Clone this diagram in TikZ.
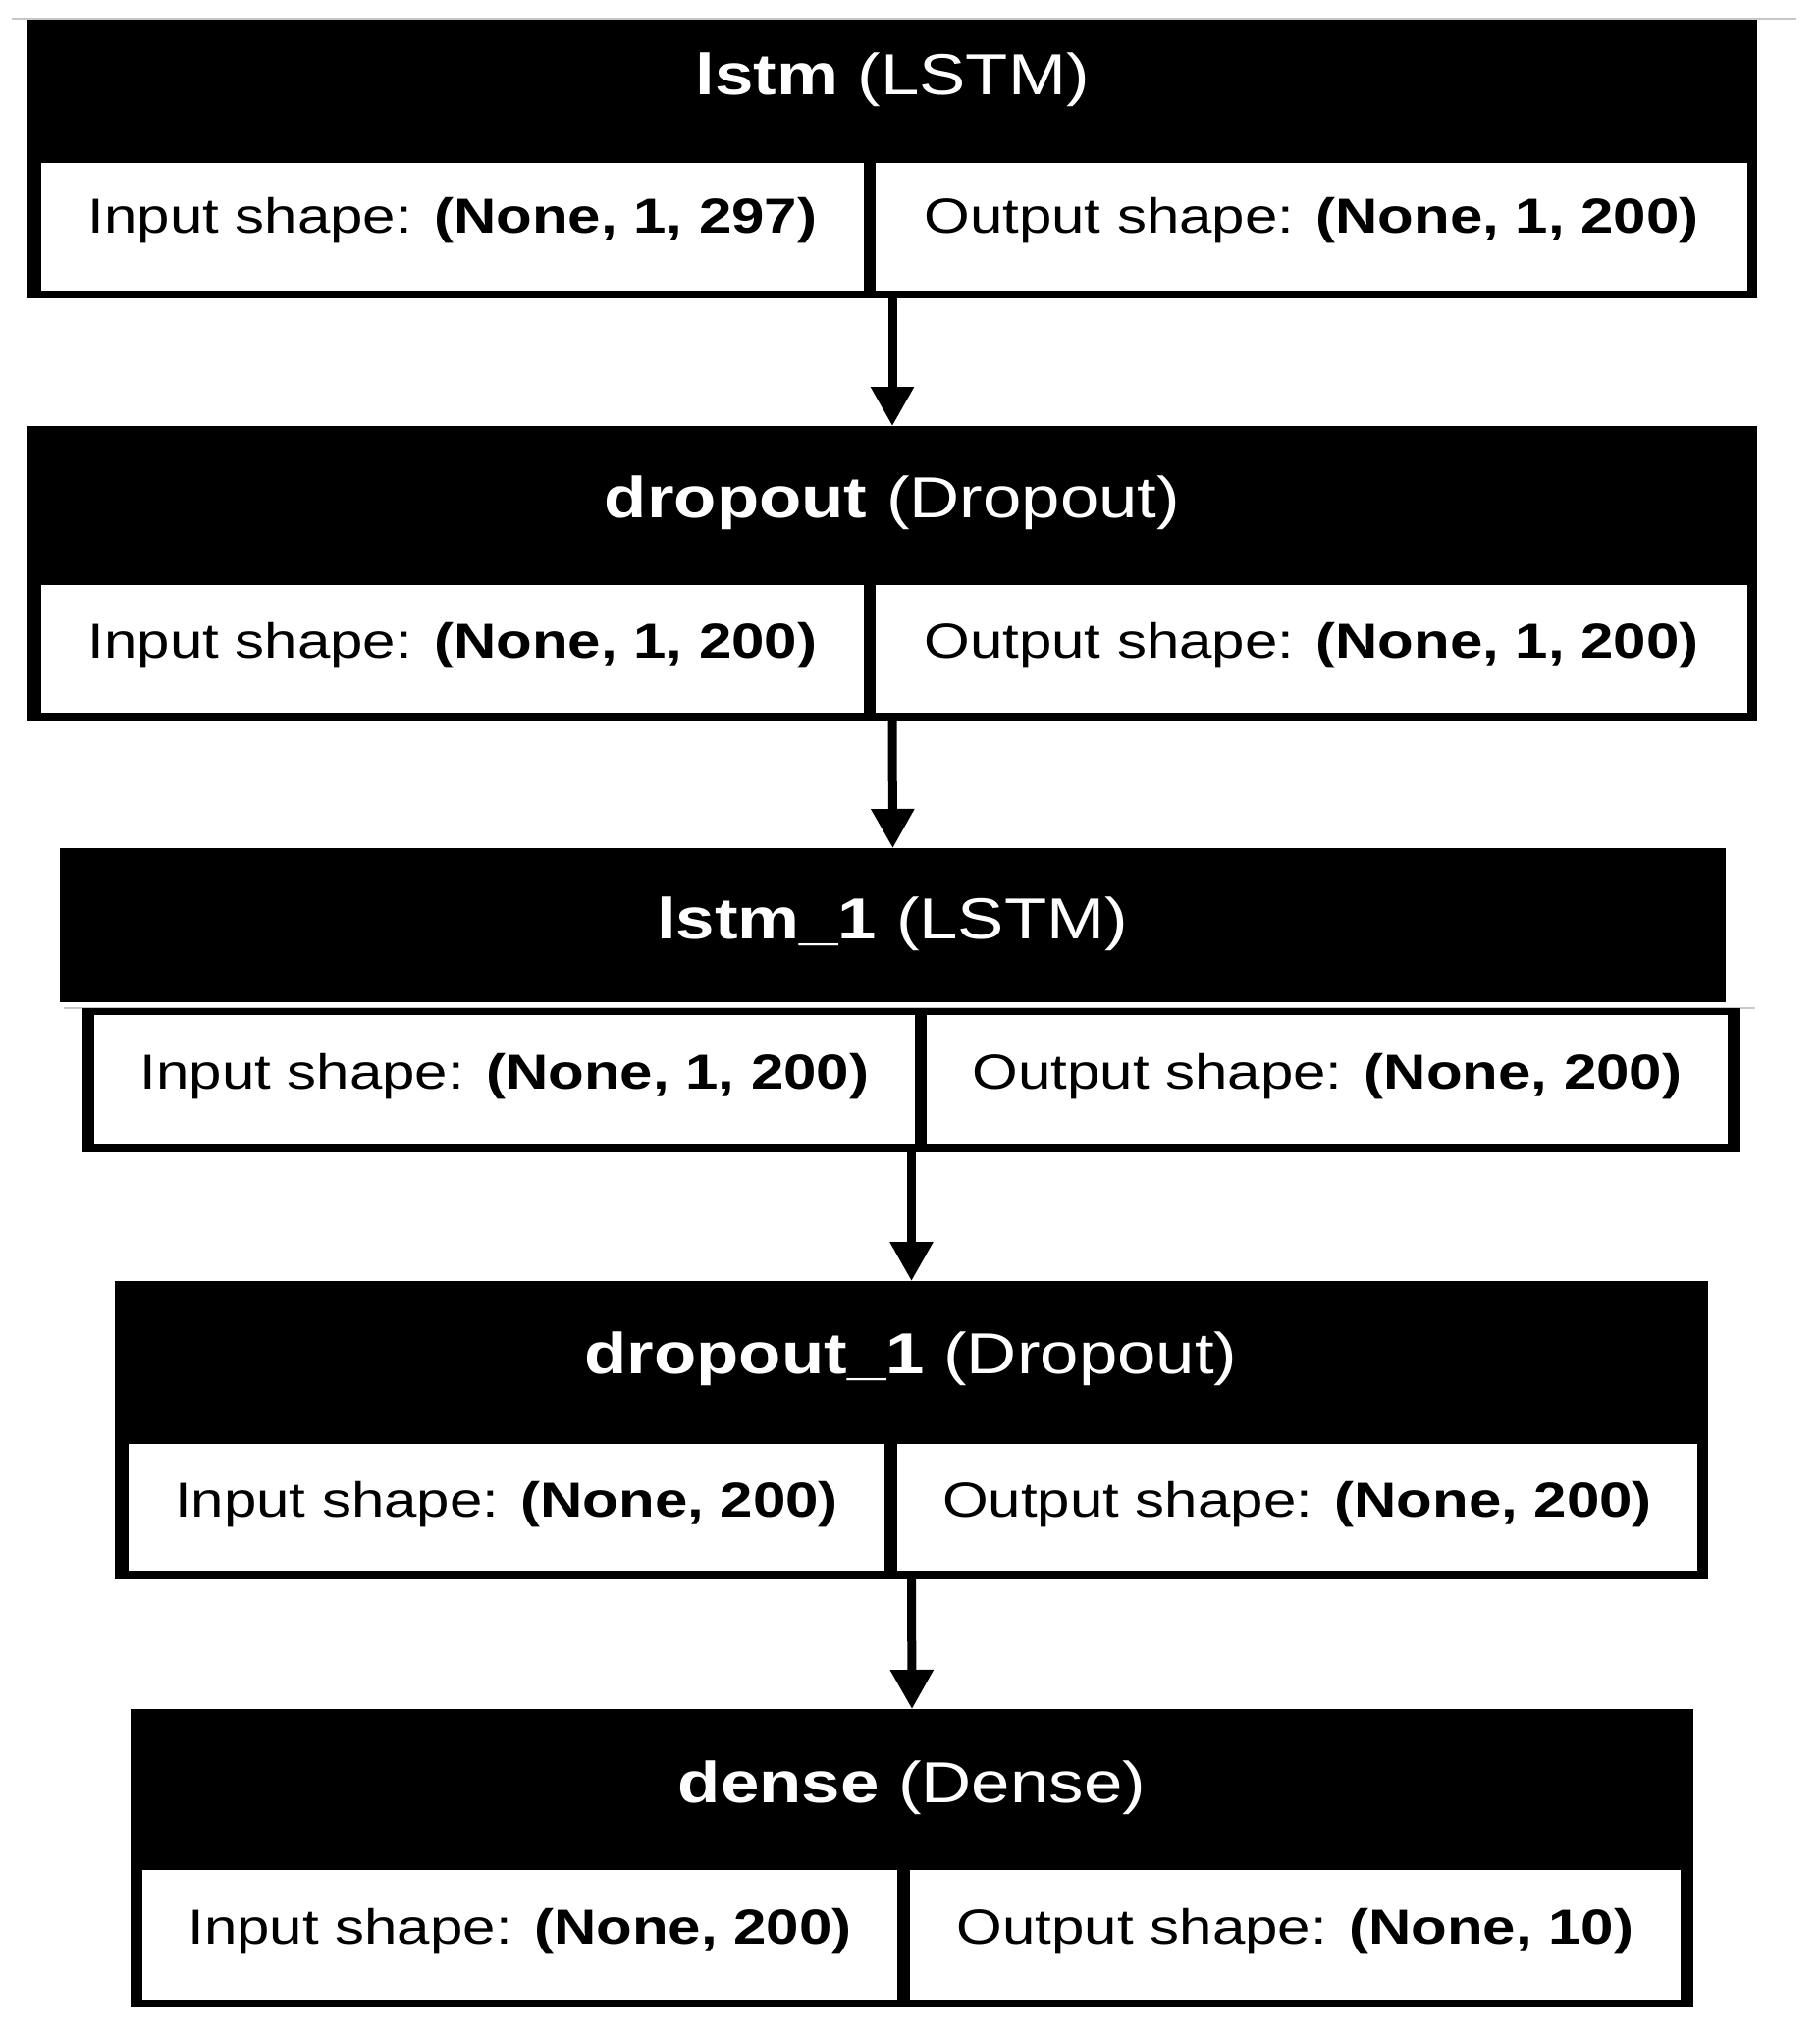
\documentclass[tikz,border=0pt]{standalone}
\usepackage{fontspec}
\usepackage{graphicx}
\setmainfont{Liberation Sans}
\usetikzlibrary{arrows.meta}
\begin{document}
\begin{tikzpicture}[x=1pt,y=-1pt,
  box/.style={anchor=north west, inner sep=0pt, outer sep=0pt, draw=none},
  blackbox/.style={box, fill=black},
  whitebox/.style={box, fill=white},
  htext/.style={text=white, anchor=base, inner sep=0pt, font=\fontsize{59}{70}\selectfont},
  ctext/.style={text=black, anchor=center, inner sep=0pt, yshift=3pt, font=\fontsize{50}{60}\selectfont},
  conn/.style={line width=9pt, draw=black, -{Triangle[width=42pt,length=40pt]}},
  edgeline/.style={draw=black!22, line width=2.5pt}
]
\useasboundingbox (0,0) rectangle (1853,2067);
\fill[white] (0,0) rectangle (1853,2067);
\newcommand{\wide}[1]{\scalebox{1.2}[1]{#1}}

% faint anti-aliased edges
\draw[edgeline] (12,19) -- (1830,19);
\draw[edgeline] (65,1027) -- (1788,1027);

% ---- lstm ----
\node[blackbox, minimum width=1762pt, minimum height=284pt] (b1) at (28,20) {};
\node[whitebox, minimum width=838pt, minimum height=130pt] (c1l) at (42,166) {};
\node[whitebox, minimum width=888pt, minimum height=130pt] (c1r) at (892,166) {};
\node[htext] (h1) at (909,96) {\wide{\textbf{lstm} (LSTM)}};
\node[ctext, yshift=3pt] (t1l) at (c1l.center) {\wide{Input shape: \textbf{(None, 1, 297)}}};
\node[ctext, yshift=3pt] (t1r) at (c1r.center) {\wide{Output shape: \textbf{(None, 1, 200)}}};

% ---- dropout ----
\node[blackbox, minimum width=1762pt, minimum height=300pt] (b2) at (28,434) {};
\node[whitebox, minimum width=838pt, minimum height=130pt] (c2l) at (42,596) {};
\node[whitebox, minimum width=888pt, minimum height=130pt] (c2r) at (892,596) {};
\node[htext] (h2) at (909,527) {\wide{\textbf{dropout} (Dropout)}};
\node[ctext] (t2l) at (c2l.center) {\wide{Input shape: \textbf{(None, 1, 200)}}};
\node[ctext] (t2r) at (c2r.center) {\wide{Output shape: \textbf{(None, 1, 200)}}};

% ---- lstm_1 ----
\node[blackbox, minimum width=1697pt, minimum height=157pt] (b3h) at (61,864) {};
\node[blackbox, minimum width=1689pt, minimum height=147pt] (b3t) at (84,1027) {};
\node[whitebox, minimum width=836pt, minimum height=131pt] (c3l) at (96,1034) {};
\node[whitebox, minimum width=816pt, minimum height=131pt] (c3r) at (944,1034) {};
\node[htext] (h3) at (909,956) {\wide{\textbf{lstm\_1} (LSTM)}};
\node[ctext] (t3l) at (c3l.center) {\wide{Input shape: \textbf{(None, 1, 200)}}};
\node[ctext] (t3r) at (c3r.center) {\wide{Output shape: \textbf{(None, 200)}}};

% ---- dropout_1 ----
\node[blackbox, minimum width=1623pt, minimum height=304pt] (b4) at (117,1305) {};
\node[whitebox, minimum width=770pt, minimum height=129pt] (c4l) at (131,1471) {};
\node[whitebox, minimum width=815pt, minimum height=129pt] (c4r) at (914,1471) {};
\node[htext] (h4) at (928,1399) {\wide{\textbf{dropout\_1} (Dropout)}};
\node[ctext] (t4l) at (c4l.center) {\wide{Input shape: \textbf{(None, 200)}}};
\node[ctext] (t4r) at (c4r.center) {\wide{Output shape: \textbf{(None, 200)}}};

% ---- dense ----
\node[blackbox, minimum width=1592pt, minimum height=304pt] (b5) at (133,1741) {};
\node[whitebox, minimum width=769pt, minimum height=132pt] (c5l) at (145,1905) {};
\node[whitebox, minimum width=785pt, minimum height=132pt] (c5r) at (927,1905) {};
\node[htext] (h5) at (929,1836) {\wide{\textbf{dense} (Dense)}};
\node[ctext] (t5l) at (c5l.center) {\wide{Input shape: \textbf{(None, 200)}}};
\node[ctext] (t5r) at (c5r.center) {\wide{Output shape: \textbf{(None, 10)}}};

% ---- connectors ----
\draw[conn] (b1.south) -- (b2.north);
\draw[conn] (b2.south) -- (b3h.north);
\draw[conn] (b3t.south) -- (b4.north);
\draw[conn] (b4.south) -- (b5.north);
\end{tikzpicture}
\end{document}
